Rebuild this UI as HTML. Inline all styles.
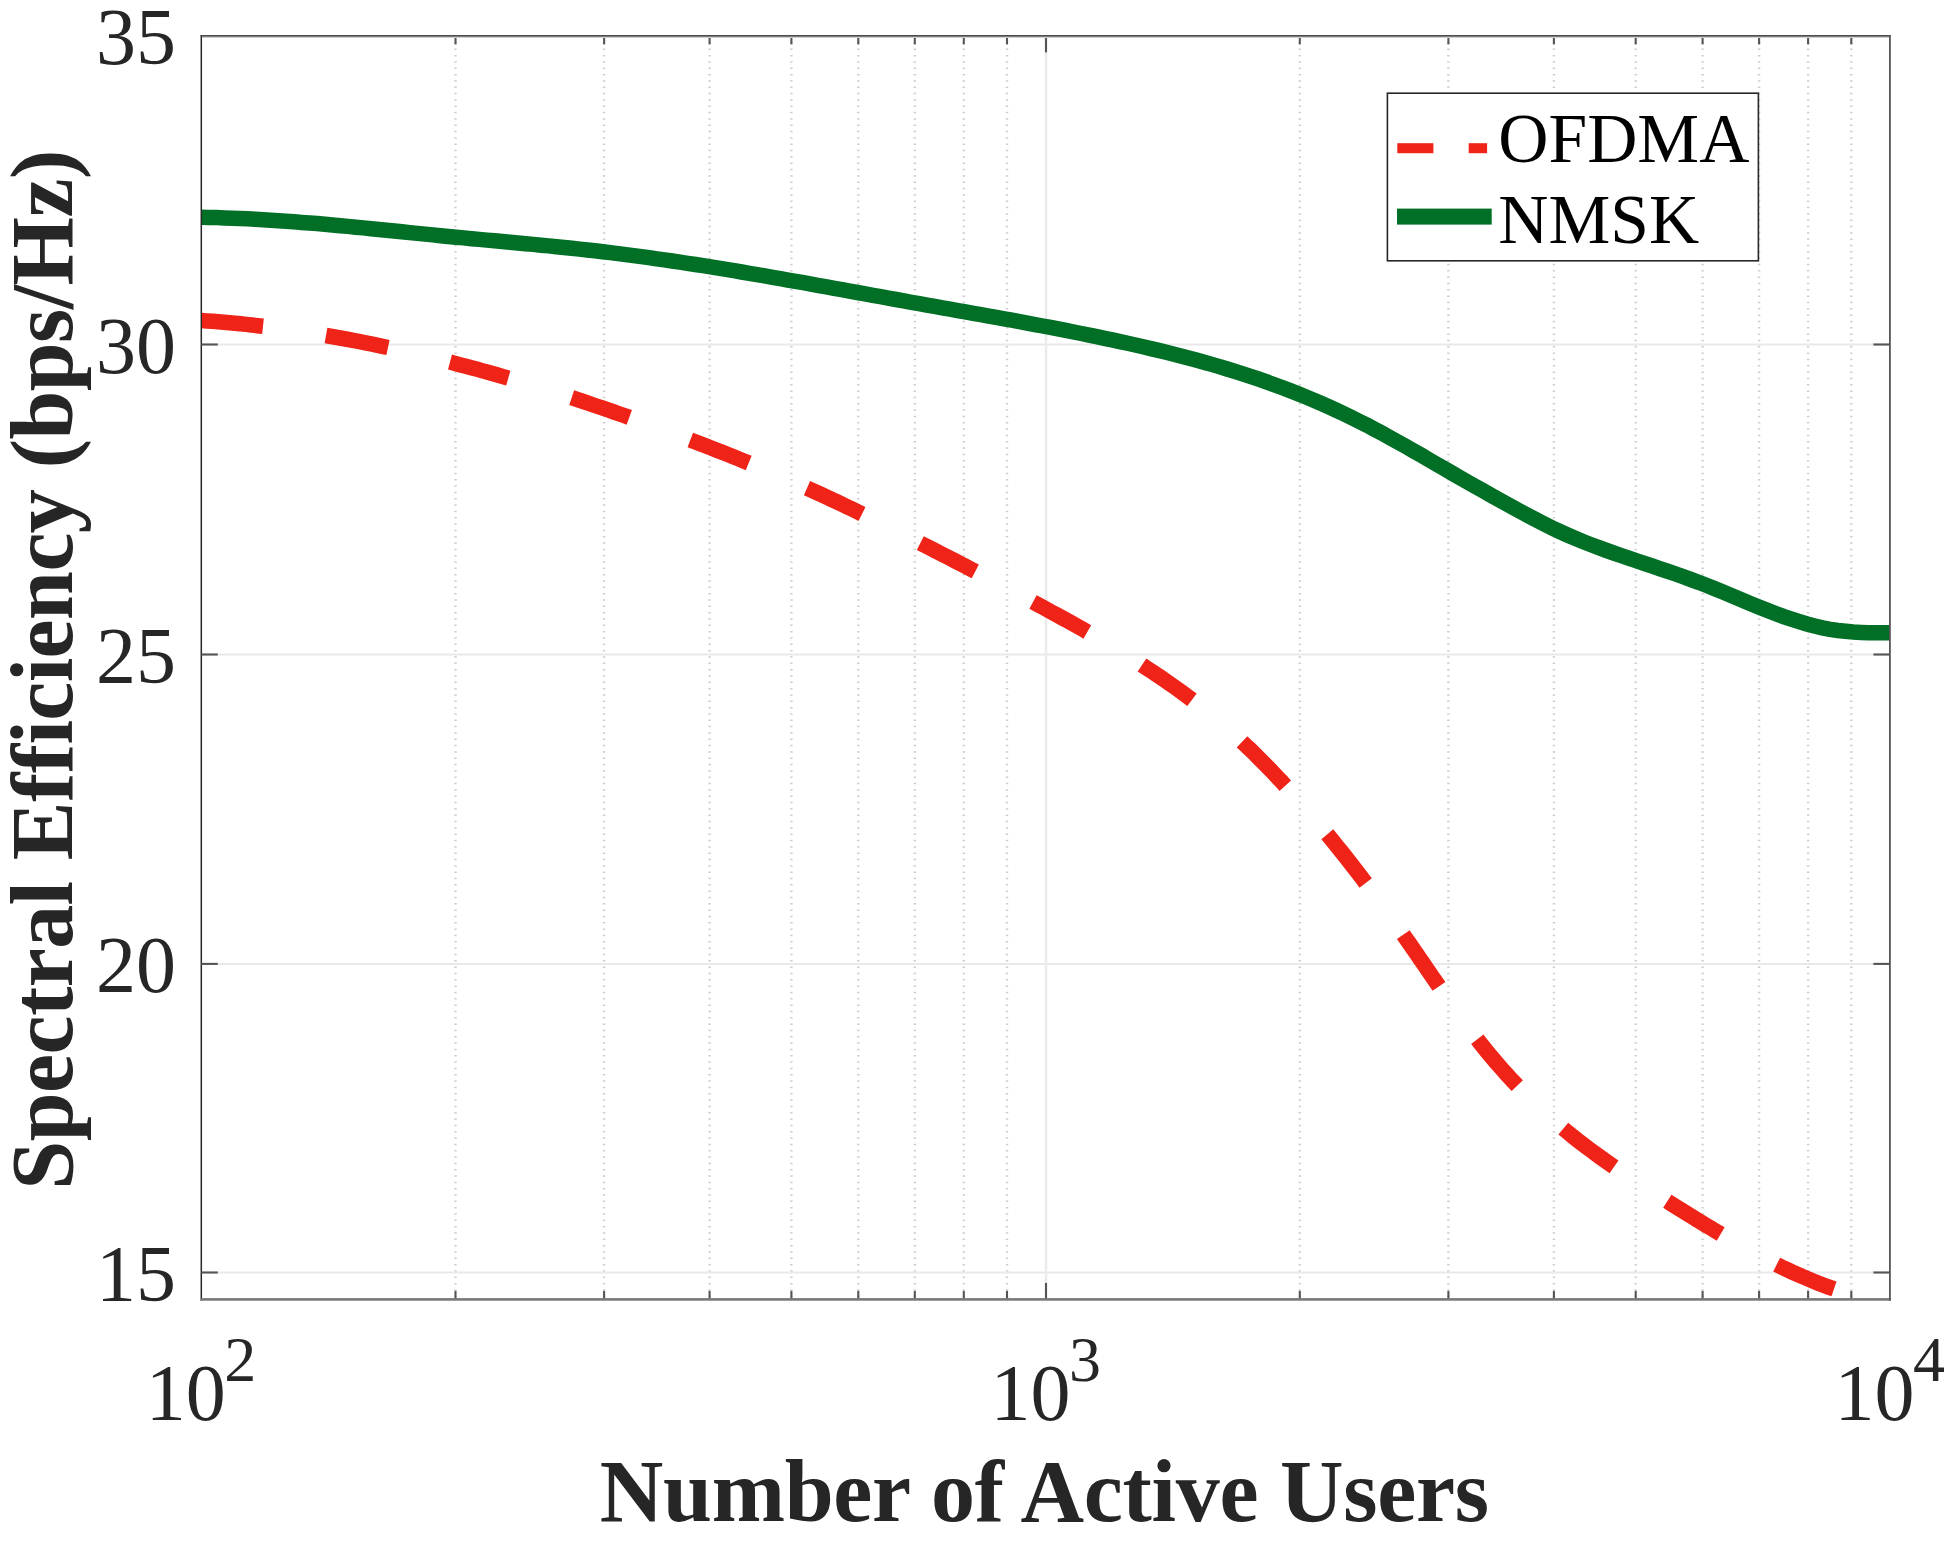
<!DOCTYPE html>
<html><head><meta charset="utf-8"><title>Spectral Efficiency</title>
<style>
html,body{margin:0;padding:0;background:#fff;}
body{width:1956px;height:1541px;overflow:hidden;}
svg{display:block;}
text{font-family:"Liberation Serif","Times New Roman",serif;}
.tick{font-size:80px;fill:#262626;}
.sup{font-size:64px;fill:#262626;}
.lab{font-size:88px;font-weight:bold;fill:#262626;}
.xl{letter-spacing:-0.29px;}
.yl{letter-spacing:-0.59px;}
.leg{font-size:69.5px;fill:#000;}
</style></head><body>
<svg width="1956" height="1541" viewBox="0 0 1956 1541">
<rect x="0" y="0" width="1956" height="1541" fill="#fff"/>

<g stroke="#cdcdcd" stroke-width="2.4" stroke-dasharray="1.5,4.83" fill="none">
<line x1="455.5" y1="35.9" x2="455.5" y2="1299.4"/>
<line x1="604.1" y1="35.9" x2="604.1" y2="1299.4"/>
<line x1="709.6" y1="35.9" x2="709.6" y2="1299.4"/>
<line x1="791.4" y1="35.9" x2="791.4" y2="1299.4"/>
<line x1="858.3" y1="35.9" x2="858.3" y2="1299.4"/>
<line x1="914.8" y1="35.9" x2="914.8" y2="1299.4"/>
<line x1="963.8" y1="35.9" x2="963.8" y2="1299.4"/>
<line x1="1007.0" y1="35.9" x2="1007.0" y2="1299.4"/>
<line x1="1299.8" y1="35.9" x2="1299.8" y2="1299.4"/>
<line x1="1448.4" y1="35.9" x2="1448.4" y2="1299.4"/>
<line x1="1553.9" y1="35.9" x2="1553.9" y2="1299.4"/>
<line x1="1635.7" y1="35.9" x2="1635.7" y2="1299.4"/>
<line x1="1702.6" y1="35.9" x2="1702.6" y2="1299.4"/>
<line x1="1759.1" y1="35.9" x2="1759.1" y2="1299.4"/>
<line x1="1808.1" y1="35.9" x2="1808.1" y2="1299.4"/>
<line x1="1851.3" y1="35.9" x2="1851.3" y2="1299.4"/>
</g>
<g stroke="#e9e9e9" stroke-width="2.0" fill="none">
<line x1="201.3" y1="344.5" x2="1889.9" y2="344.5"/>
<line x1="201.3" y1="654.5" x2="1889.9" y2="654.5"/>
<line x1="201.3" y1="963.9" x2="1889.9" y2="963.9"/>
<line x1="201.3" y1="1272.5" x2="1889.9" y2="1272.5"/>
<line x1="1046.0" y1="35.9" x2="1046.0" y2="1299.4" stroke="#ebebeb" stroke-width="2.5"/>
</g>
<clipPath id="c"><rect x="201.3" y="35.9" width="1688.6000000000001" height="1263.5"/></clipPath>
<g clip-path="url(#c)" fill="none">
<g stroke="#f02319" stroke-width="15.5">
<path d="M201.5,320.5 L207.1,320.9 L212.7,321.3 L218.3,321.8 L223.9,322.2 L229.5,322.7 L235.0,323.3 L240.6,323.8 L246.2,324.4 L251.8,325.0 L257.4,325.7 L263.0,326.3"/>
<path d="M326.0,335.5 L331.6,336.5 L337.3,337.5 L342.9,338.5 L348.5,339.5 L354.2,340.6 L359.8,341.7 L365.5,342.8 L371.1,343.9 L376.7,345.1 L382.4,346.3 L388.0,347.5"/>
<path d="M450.0,362.1 L455.3,363.5 L460.6,364.9 L465.9,366.3 L471.2,367.7 L476.5,369.1 L481.8,370.6 L487.1,372.0 L492.4,373.5 L497.7,375.0 L503.0,376.6 L508.3,378.1"/>
<path d="M571.7,397.7 L576.9,399.4 L582.2,401.2 L587.4,402.9 L592.6,404.7 L597.9,406.5 L603.1,408.2 L608.4,410.0 L613.6,411.9 L618.8,413.7 L624.1,415.5 L629.3,417.4"/>
<path d="M690.3,439.9 L695.6,441.9 L700.9,444.0 L706.2,446.0 L711.5,448.1 L716.8,450.2 L722.2,452.3 L727.5,454.4 L732.8,456.5 L738.1,458.6 L743.4,460.8 L748.7,463.0"/>
<path d="M807.0,488.1 L812.0,490.3 L817.0,492.6 L822.0,494.9 L827.0,497.3 L832.0,499.6 L837.0,501.9 L842.0,504.3 L847.0,506.7 L852.0,509.1 L857.0,511.5 L862.0,514.0"/>
<path d="M920.3,543.1 L925.3,545.6 L930.3,548.2 L935.3,550.7 L940.3,553.3 L945.3,555.9 L950.3,558.4 L955.3,561.0 L960.3,563.6 L965.3,566.2 L970.3,568.8 L975.3,571.4"/>
<path d="M1033.0,602.0 L1037.9,604.6 L1042.9,607.3 L1047.8,610.0 L1052.7,612.7 L1057.7,615.4 L1062.6,618.1 L1067.6,620.8 L1072.5,623.6 L1077.4,626.3 L1082.4,629.1 L1087.3,631.9"/>
<path d="M1142.0,665.0 L1146.5,668.0 L1151.1,670.9 L1155.6,674.0 L1160.2,677.0 L1164.7,680.1 L1169.3,683.3 L1173.8,686.5 L1178.4,689.7 L1182.9,693.0 L1187.5,696.4 L1192.0,699.8"/>
<path d="M1242.0,741.8 L1245.9,745.5 L1249.9,749.2 L1253.8,753.0 L1257.7,756.9 L1261.7,760.9 L1265.6,764.9 L1269.6,768.9 L1273.5,773.0 L1277.4,777.2 L1281.4,781.4 L1285.3,785.7"/>
<path d="M1327.3,834.3 L1330.8,838.5 L1334.3,842.8 L1337.8,847.2 L1341.3,851.5 L1344.8,855.9 L1348.2,860.3 L1351.7,864.8 L1355.2,869.3 L1358.7,873.8 L1362.2,878.4 L1365.7,883.0"/>
<path d="M1403.3,934.6 L1406.5,939.3 L1409.8,943.9 L1413.0,948.6 L1416.3,953.3 L1419.5,958.1 L1422.8,962.8 L1426.0,967.5 L1429.3,972.3 L1432.5,977.0 L1435.8,981.7 L1439.0,986.4"/>
<path d="M1477.3,1039.3 L1480.9,1044.0 L1484.6,1048.5 L1488.2,1053.0 L1491.8,1057.3 L1495.5,1061.6 L1499.1,1065.8 L1502.8,1070.0 L1506.4,1074.0 L1510.0,1078.0 L1513.7,1081.9 L1517.3,1085.7"/>
<path d="M1563.3,1128.6 L1567.9,1132.4 L1572.5,1136.2 L1577.1,1139.8 L1581.7,1143.4 L1586.3,1146.9 L1591.0,1150.4 L1595.6,1153.8 L1600.2,1157.1 L1604.8,1160.4 L1609.4,1163.6 L1614.0,1166.8"/>
<path d="M1667.3,1201.3 L1672.2,1204.4 L1677.0,1207.4 L1681.9,1210.4 L1686.7,1213.4 L1691.6,1216.4 L1696.4,1219.4 L1701.3,1222.4 L1706.1,1225.3 L1711.0,1228.2 L1715.8,1231.1 L1720.7,1234.0"/>
<path d="M1776.7,1264.6 L1781.9,1267.2 L1787.1,1269.6 L1792.3,1272.1 L1797.5,1274.4 L1802.7,1276.7 L1808.0,1278.9 L1813.2,1281.1 L1818.4,1283.2 L1823.6,1285.2 L1828.8,1287.1 L1834.0,1288.9"/>
</g>
<path d="M201.3,217.3 L209.0,217.5 L216.7,217.6 L224.5,217.9 L232.2,218.2 L239.9,218.5 L247.6,218.8 L255.3,219.2 L263.1,219.7 L270.8,220.2 L278.5,220.7 L286.2,221.2 L293.9,221.8 L301.7,222.4 L309.4,223.0 L317.1,223.6 L324.8,224.3 L332.5,225.0 L340.3,225.7 L348.0,226.4 L355.7,227.2 L363.4,227.9 L371.1,228.7 L378.9,229.5 L386.6,230.2 L394.3,231.0 L402.0,231.8 L409.7,232.6 L417.4,233.4 L425.2,234.1 L432.9,234.9 L440.6,235.7 L448.3,236.5 L456.0,237.2 L463.8,237.9 L471.5,238.7 L479.2,239.4 L486.9,240.1 L494.6,240.8 L502.4,241.5 L510.1,242.3 L517.8,243.0 L525.5,243.7 L533.2,244.4 L541.0,245.2 L548.7,245.9 L556.4,246.7 L564.1,247.5 L571.8,248.3 L579.6,249.1 L587.3,250.0 L595.0,250.8 L602.7,251.7 L610.4,252.6 L618.2,253.6 L625.9,254.6 L633.6,255.6 L641.3,256.6 L649.0,257.7 L656.8,258.8 L664.5,259.9 L672.2,261.0 L679.9,262.1 L687.6,263.3 L695.4,264.5 L703.1,265.7 L710.8,266.9 L718.5,268.2 L726.2,269.4 L734.0,270.7 L741.7,272.0 L749.4,273.3 L757.1,274.6 L764.8,275.9 L772.6,277.3 L780.3,278.6 L788.0,280.0 L795.7,281.3 L803.4,282.7 L811.2,284.1 L818.9,285.5 L826.6,286.9 L834.3,288.3 L842.0,289.7 L849.7,291.1 L857.5,292.5 L865.2,293.9 L872.9,295.3 L880.6,296.7 L888.3,298.1 L896.1,299.5 L903.8,300.9 L911.5,302.3 L919.2,303.6 L926.9,305.0 L934.7,306.4 L942.4,307.8 L950.1,309.1 L957.8,310.5 L965.5,311.9 L973.3,313.3 L981.0,314.6 L988.7,316.0 L996.4,317.4 L1004.1,318.8 L1011.9,320.2 L1019.6,321.6 L1027.3,323.1 L1035.0,324.5 L1042.7,326.0 L1050.5,327.4 L1058.2,328.9 L1065.9,330.4 L1073.6,332.0 L1081.3,333.5 L1089.1,335.1 L1096.8,336.7 L1104.5,338.3 L1112.2,339.9 L1119.9,341.6 L1127.7,343.3 L1135.4,345.0 L1143.1,346.8 L1150.8,348.6 L1158.5,350.4 L1166.3,352.3 L1174.0,354.2 L1181.7,356.2 L1189.4,358.2 L1197.1,360.3 L1204.9,362.5 L1212.6,364.6 L1220.3,366.9 L1228.0,369.2 L1235.7,371.6 L1243.5,374.1 L1251.2,376.6 L1258.9,379.2 L1266.6,381.9 L1274.3,384.7 L1282.0,387.5 L1289.8,390.5 L1297.5,393.5 L1305.2,396.6 L1312.9,399.8 L1320.6,403.2 L1328.4,406.6 L1336.1,410.1 L1343.8,413.7 L1351.5,417.4 L1359.2,421.3 L1367.0,425.2 L1374.7,429.3 L1382.4,433.4 L1390.1,437.7 L1397.8,442.0 L1405.6,446.3 L1413.3,450.7 L1421.0,455.1 L1428.7,459.6 L1436.4,464.1 L1444.2,468.5 L1451.9,473.0 L1459.6,477.4 L1467.3,481.9 L1475.0,486.2 L1482.8,490.6 L1490.5,495.0 L1498.2,499.3 L1505.9,503.5 L1513.6,507.8 L1521.4,512.0 L1529.1,516.1 L1536.8,520.2 L1544.5,524.2 L1552.2,528.0 L1560.0,531.6 L1567.7,535.1 L1575.4,538.4 L1583.1,541.6 L1590.8,544.6 L1598.6,547.6 L1606.3,550.4 L1614.0,553.1 L1621.7,555.8 L1629.4,558.4 L1637.2,561.0 L1644.9,563.6 L1652.6,566.2 L1660.3,568.8 L1668.0,571.4 L1675.8,574.0 L1683.5,576.8 L1691.2,579.6 L1698.9,582.4 L1706.6,585.4 L1714.3,588.5 L1722.1,591.7 L1729.8,594.9 L1737.5,598.1 L1745.2,601.4 L1752.9,604.6 L1760.7,607.7 L1768.4,610.8 L1776.1,613.7 L1783.8,616.6 L1791.5,619.2 L1799.3,621.7 L1807.0,624.0 L1814.7,626.0 L1822.4,627.8 L1830.1,629.3 L1837.9,630.5 L1845.6,631.3 L1853.3,632.0 L1861.0,632.4 L1868.7,632.7 L1876.5,632.8 L1884.2,632.8 L1891.9,632.7" stroke="#016f25" stroke-width="15.5"/>
</g>
<g stroke="#555" stroke-width="2.1" fill="none">
<line x1="201.3" y1="35.0" x2="201.3" y2="1300.7" stroke="#262626" stroke-width="1.5"/>
<line x1="455.5" y1="1299.4" x2="455.5" y2="1290.9"/><line x1="455.5" y1="35.9" x2="455.5" y2="44.4"/>
<line x1="604.1" y1="1299.4" x2="604.1" y2="1290.9"/><line x1="604.1" y1="35.9" x2="604.1" y2="44.4"/>
<line x1="709.6" y1="1299.4" x2="709.6" y2="1290.9"/><line x1="709.6" y1="35.9" x2="709.6" y2="44.4"/>
<line x1="791.4" y1="1299.4" x2="791.4" y2="1290.9"/><line x1="791.4" y1="35.9" x2="791.4" y2="44.4"/>
<line x1="858.3" y1="1299.4" x2="858.3" y2="1290.9"/><line x1="858.3" y1="35.9" x2="858.3" y2="44.4"/>
<line x1="914.8" y1="1299.4" x2="914.8" y2="1290.9"/><line x1="914.8" y1="35.9" x2="914.8" y2="44.4"/>
<line x1="963.8" y1="1299.4" x2="963.8" y2="1290.9"/><line x1="963.8" y1="35.9" x2="963.8" y2="44.4"/>
<line x1="1007.0" y1="1299.4" x2="1007.0" y2="1290.9"/><line x1="1007.0" y1="35.9" x2="1007.0" y2="44.4"/>
<line x1="1299.8" y1="1299.4" x2="1299.8" y2="1290.9"/><line x1="1299.8" y1="35.9" x2="1299.8" y2="44.4"/>
<line x1="1448.4" y1="1299.4" x2="1448.4" y2="1290.9"/><line x1="1448.4" y1="35.9" x2="1448.4" y2="44.4"/>
<line x1="1553.9" y1="1299.4" x2="1553.9" y2="1290.9"/><line x1="1553.9" y1="35.9" x2="1553.9" y2="44.4"/>
<line x1="1635.7" y1="1299.4" x2="1635.7" y2="1290.9"/><line x1="1635.7" y1="35.9" x2="1635.7" y2="44.4"/>
<line x1="1702.6" y1="1299.4" x2="1702.6" y2="1290.9"/><line x1="1702.6" y1="35.9" x2="1702.6" y2="44.4"/>
<line x1="1759.1" y1="1299.4" x2="1759.1" y2="1290.9"/><line x1="1759.1" y1="35.9" x2="1759.1" y2="44.4"/>
<line x1="1808.1" y1="1299.4" x2="1808.1" y2="1290.9"/><line x1="1808.1" y1="35.9" x2="1808.1" y2="44.4"/>
<line x1="1851.3" y1="1299.4" x2="1851.3" y2="1290.9"/><line x1="1851.3" y1="35.9" x2="1851.3" y2="44.4"/>
<line x1="1046.0" y1="1299.4" x2="1046.0" y2="1282.9"/><line x1="1046.0" y1="35.9" x2="1046.0" y2="52.4"/>
<line x1="201.3" y1="344.5" x2="217.8" y2="344.5"/><line x1="1889.9" y1="344.5" x2="1873.4" y2="344.5"/>
<line x1="201.3" y1="654.5" x2="217.8" y2="654.5"/><line x1="1889.9" y1="654.5" x2="1873.4" y2="654.5"/>
<line x1="201.3" y1="963.9" x2="217.8" y2="963.9"/><line x1="1889.9" y1="963.9" x2="1873.4" y2="963.9"/>
<line x1="201.3" y1="1272.5" x2="217.8" y2="1272.5"/><line x1="1889.9" y1="1272.5" x2="1873.4" y2="1272.5"/>
</g>
<rect x="200.55" y="35" width="1690.2500000000002" height="1" fill="#4d4d4d"/><rect x="202.05" y="36" width="1688.0000000000002" height="1" fill="#7c7c7c"/><rect x="202.05" y="37" width="1687.0000000000002" height="1" fill="#cfcfcf"/>
<rect x="200.55" y="1298.1000000000001" width="1690.2500000000002" height="2.6" fill="#787878"/>
<rect x="1889.0" y="35" width="1.8" height="1265.7" fill="#555"/>
<text class="tick" text-anchor="end" x="176" y="64.1">35</text>
<text class="tick" text-anchor="end" x="176" y="372.8">30</text>
<text class="tick" text-anchor="end" x="176" y="682.8">25</text>
<text class="tick" text-anchor="end" x="176" y="992.2">20</text>
<text class="tick" text-anchor="end" x="176" y="1300.8">15</text>
<text class="tick" x="145.8" y="1419.8">10<tspan class="sup" dx="-1.5" dy="-38.9">2</tspan></text>
<text class="tick" x="990.5" y="1419.8">10<tspan class="sup" dx="-1.5" dy="-38.9">3</tspan></text>
<text class="tick" x="1834.4" y="1419.8">10<tspan class="sup" dx="-1.5" dy="-38.9">4</tspan></text>
<text class="lab xl" text-anchor="middle" x="1044.2" y="1520.5">Number of Active Users</text>
<text class="lab yl" text-anchor="middle" transform="translate(71.7,670) rotate(-90)">Spectral Efficiency (bps/Hz)</text>
<rect x="1387.4" y="93.2" width="371" height="167.6" fill="#fff" stroke="#262626" stroke-width="1.6"/>
<g fill="#f02319"><rect x="1397.3" y="143.2" width="36.1" height="10"/><rect x="1468.7" y="143.2" width="18.4" height="10"/></g>
<rect x="1397" y="208.6" width="94.7" height="16" fill="#016f25"/>
<text class="leg" x="1498.3" y="161.7">OFDMA</text>
<text class="leg" x="1498.3" y="242.7">NMSK</text>
</svg></body></html>
